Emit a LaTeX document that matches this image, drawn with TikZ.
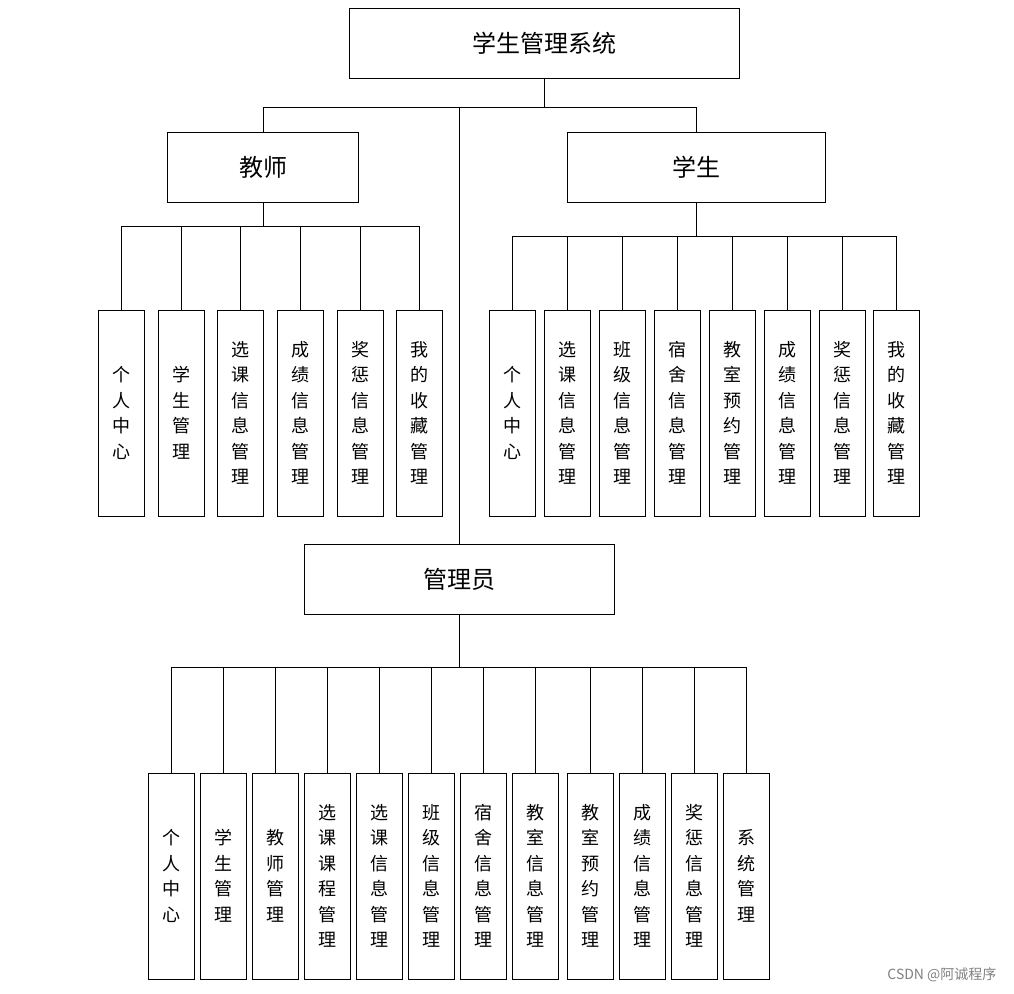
\documentclass[tikz,border=0pt]{standalone}
\usepackage{fontspec}
\setmainfont{Noto Sans CJK SC}
\begin{document}
\begin{tikzpicture}[x=1pt,y=-1pt,
  big/.style={draw,line width=0.8pt,font=\fontsize{24}{28}\selectfont,inner sep=0pt},
  leaf/.style={draw,line width=0.8pt,minimum width=46pt,minimum height=206pt,inner sep=0pt,align=center,font=\fontsize{18}{25.5}\selectfont},
  ln/.style={line width=0.8pt}]
\useasboundingbox (0,0) rectangle (1014,993);
\node[big,minimum width=390pt,minimum height=70pt] (root) at (544,43) {学生管理系统};
\node[big,minimum width=191pt,minimum height=70pt] (T) at (263,167) {教师};
\node[big,minimum width=258pt,minimum height=70pt] (S) at (696,167) {学生};
\node[big,minimum width=310pt,minimum height=70pt] (A) at (459,579) {管理员};
\coordinate (r1) at (544,107);
\coordinate (rl) at (263,107);
\coordinate (rr) at (696,107);
\coordinate (rm) at (459,107);
\draw[ln] (root.south) -- (r1);
\draw[ln] (rl) -- (rr);
\draw[ln] (rl) -- (T.north);
\draw[ln] (rr) -- (S.north);
\draw[ln] (rm) -- (A.north);
% teacher
\coordinate (tb) at (263,226);
\draw[ln] (T.south) -- (tb);
\foreach \x/\t [count=\i] in {121/个\\人\\中\\心,181/学\\生\\管\\理,240/选\\课\\信\\息\\管\\理,300/成\\绩\\信\\息\\管\\理,360/奖\\惩\\信\\息\\管\\理,419/我\\的\\收\\藏\\管\\理}{
  \node[leaf] (t\i) at (\x,413) {\t};
  \coordinate (tc\i) at (\x,226);
  \draw[ln] (tc\i) -- (t\i.north);
}
\draw[ln] (tc1) -- (tc6);
% student
\coordinate (sb) at (696,236);
\draw[ln] (S.south) -- (sb);
\foreach \x/\t [count=\i] in {512/个\\人\\中\\心,567/选\\课\\信\\息\\管\\理,622/班\\级\\信\\息\\管\\理,677/宿\\舍\\信\\息\\管\\理,732/教\\室\\预\\约\\管\\理,787/成\\绩\\信\\息\\管\\理,842/奖\\惩\\信\\息\\管\\理,896/我\\的\\收\\藏\\管\\理}{
  \node[leaf] (s\i) at (\x,413) {\t};
  \coordinate (sc\i) at (\x,236);
  \draw[ln] (sc\i) -- (s\i.north);
}
\draw[ln] (sc1) -- (sc8);
% admin
\coordinate (ab) at (459,667);
\draw[ln] (A.south) -- (ab);
\foreach \x/\t [count=\i] in {171/个\\人\\中\\心,223/学\\生\\管\\理,275/教\\师\\管\\理,327/选\\课\\课\\程\\管\\理,379/选\\课\\信\\息\\管\\理,431/班\\级\\信\\息\\管\\理,483/宿\\舍\\信\\息\\管\\理,535/教\\室\\信\\息\\管\\理,590/教\\室\\预\\约\\管\\理,642/成\\绩\\信\\息\\管\\理,694/奖\\惩\\信\\息\\管\\理,746/系\\统\\管\\理}{
  \node[leaf] (a\i) at (\x,876) {\t};
  \coordinate (ac\i) at (\x,667);
  \draw[ln] (ac\i) -- (a\i.north);
}
\draw[ln] (ac1) -- (ac12);
\node[text=gray,font=\fontsize{14}{16}\selectfont,anchor=east] (wm) at (1000,975) {CSDN @阿诚程序};
\end{tikzpicture}
\end{document}
